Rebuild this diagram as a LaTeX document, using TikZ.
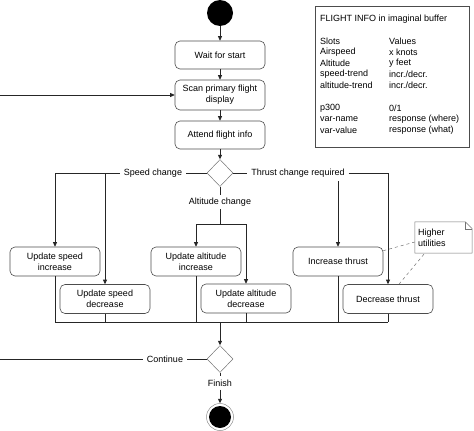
\documentclass[tikz,border=0pt]{standalone}
\usepackage{fontspec}
\setmainfont{Liberation Sans}
\usetikzlibrary{shapes.geometric,arrows.meta}
\begin{document}
\begin{tikzpicture}[x=1pt,y=-1pt, font=\fontsize{9}{11}\selectfont,
 act/.style={draw=black!70, rounded corners=5pt, minimum width=90pt, minimum height=28pt, align=center, inner sep=2pt, line width=0.6pt},
 decn/.style={diamond, draw=black!55, minimum width=26pt, minimum height=27pt, inner sep=0pt, line width=0.5pt},
 lbl/.style={inner sep=4pt},
 flow/.style={draw=black!85, line width=0.7pt},
 arr/.style={flow, -{Triangle[length=4.5pt,width=4pt]}},
 info/.style={anchor=west, inner sep=0pt, font=\fontsize{9}{11}\selectfont},
 notel/.style={draw=black!55, dashed, line width=0.5pt},
 ]
\useasboundingbox (0,0) rectangle (474,431);
% start
\node[circle, fill=black, minimum size=26pt, inner sep=0pt] (start) at (220,13) {};
\node[act] (wait) at (220,55) {Wait for start};
\node[act, minimum height=30pt] (scan) at (220,95) {Scan primary flight\\display};
\node[act] (attend) at (220,135) {Attend flight info};
\node[decn] (d1) at (220,173) {};
\node[lbl] (spl) at (153,173) {Speed change};
\node[lbl] (tl) at (298,173) {Thrust change required};
\node[lbl, inner sep=3pt] (al) at (220,202) {Altitude change};
% activities
\node[act, minimum height=29pt] (si) at (55,261.5) {Update speed\\increase};
\node[act, minimum height=29pt] (sd) at (105,299) {Update speed\\decrease};
\node[act, minimum height=29pt] (ai) at (196,261.5) {Update altitude\\increase};
\node[act, minimum height=29pt] (ad) at (246,298.5) {Update altitude\\decrease};
\node[act, minimum height=29pt] (ti) at (338,261.5) {Increase thrust};
\node[act, minimum height=29pt] (td) at (388,299) {Decrease thrust};
% note
\node[text width=51pt, inner sep=3pt, minimum height=31pt, align=left] (note) at (443.5,237.5) {Higher\\utilities};
\draw[draw=black!55, line width=0.5pt] (note.north west) -- ([xshift=-7pt]note.north east) -- ([yshift=-7pt]note.north east) -- (note.south east) -- (note.south west) -- cycle;
\draw[draw=black!55, line width=0.5pt] ([xshift=-7pt]note.north east) -- ([xshift=-7pt,yshift=-7pt]note.north east) -- ([yshift=-7pt]note.north east);
\draw[notel] ([yshift=-4pt]ti.north east) -- ([yshift=-4.5pt]note.west);
\draw[notel] ([xshift=11pt]td.north) -- ([xshift=10pt]note.south west);
% merge
\node[decn] (d2) at (220,359) {};
\node[lbl] (cl) at (165,359) {Continue};
\node[lbl, inner sep=3pt] (fl) at (220,383) {Finish};
\node[circle, draw=black!45, line width=0.5pt, minimum size=27pt, inner sep=0pt] (endring) at (220,417) {};
\node[circle, fill=black, minimum size=22pt, inner sep=0pt] (endc) at (220,417) {};
% junctions
\coordinate (sj) at (55,173);
\coordinate (sb) at (105,173);
\coordinate (tj) at (388,173);
\coordinate (aj) at (220,224);
\coordinate (bl) at (55,322);
\coordinate (br) at (388,322);
\coordinate (bm) at (220,322);
\coordinate (lp1) at (-3,359);
\coordinate (lp2) at (-3,95);
% flows
\draw[arr] (start) -- (wait);
\draw[arr] (wait) -- (scan);
\draw[arr] (scan) -- (attend);
\draw[arr] (attend) -- (d1);
\draw[flow] (d1.west) -- (spl.east);
\draw[arr] (spl.west) -- (sj) -- (si.north);
\draw[arr] (sb) -- (sd.north);
\draw[flow] (d1.east) -- (tl.west);
\draw[arr] (tl.east) -- (tj) -- (td.north);
\draw[arr] (tl.south -| ti.north) -- (ti.north);
\draw[flow] (d1.south) -- (al.north);
\draw[flow] (al.south) -- (aj);
\draw[arr] (aj) -| (ai.north);
\draw[arr] (aj) -| (ad.north);
\draw[flow] (bl) -- (br);
\draw[flow] (si.south) -- (si.south |- bl);
\draw[flow] (sd.south) -- (sd.south |- bl);
\draw[flow] (ai.south) -- (ai.south |- bl);
\draw[flow] (ad.south) -- (ad.south |- bl);
\draw[flow] (ti.south) -- (ti.south |- bl);
\draw[flow] (td.south) -- (td.south |- bl);
\draw[arr] (bm) -- (d2.north);
\draw[flow] (d2.west) -- (cl.east);
\draw[arr] (cl.west) -- (lp1) -- (lp2) -- (scan.west);
\draw[flow] (d2.south) -- (fl.north);
\draw[arr] (fl.south) -- (endring.north);
% info box
\node[draw=black!70, line width=0.6pt, minimum width=154pt, minimum height=141pt, anchor=north west, inner sep=0pt] (infobox) at (315,6) {};
\node[info] (t0) at (320,19) {FLIGHT INFO in imaginal buffer};
\node[info] (s1) at (320,41) {Slots};
\node[info] (v1) at (389,41) {Values};
\node[info] (s2) at (320,52) {Airspeed};
\node[info] (v2) at (389,52) {x knots};
\node[info] (s3) at (320,63) {Altitude};
\node[info] (v3) at (389,63) {y feet};
\node[info] (s4) at (320,74) {speed-trend};
\node[info] (v4) at (389,74) {incr./decr.};
\node[info] (s5) at (320,85) {altitude-trend};
\node[info] (v5) at (389,85) {incr./decr.};
\node[info] (s6) at (320,108) {p300};
\node[info] (v6) at (389,108) {0/1};
\node[info] (s7) at (320,119) {var-name};
\node[info] (v7) at (389,119) {response (where)};
\node[info] (s8) at (320,130) {var-value};
\node[info] (v8) at (389,130) {response (what)};
\end{tikzpicture}
\end{document}
